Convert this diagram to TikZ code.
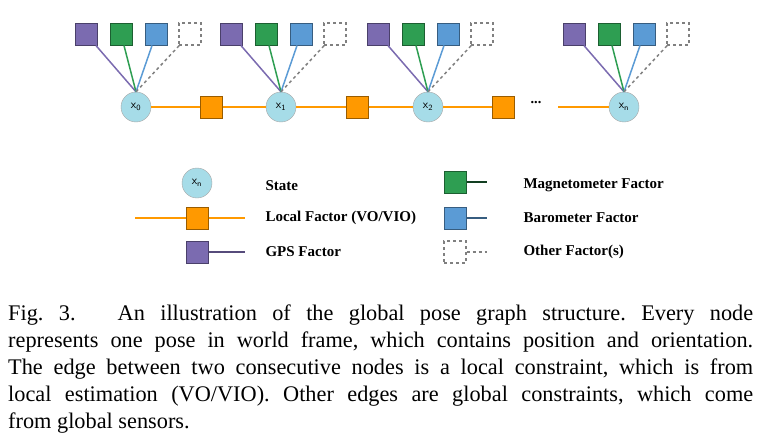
\documentclass[tikz,border=0pt]{standalone}
\usepackage{fontspec}
\setmainfont{Liberation Serif}
\definecolor{gps}{HTML}{7B6BB0}
\definecolor{mag}{HTML}{2E9E52}
\definecolor{baro}{HTML}{5B9BD5}
\definecolor{loc}{HTML}{FF9900}
\definecolor{st}{HTML}{A6DCE8}
\begin{document}
\begin{tikzpicture}[x=1pt,y=-1pt,
 sq/.style={minimum size=22pt,inner sep=0pt,draw=#1!60!black,fill=#1,line width=1pt},
 oth/.style={minimum size=22pt,inner sep=0pt,draw=gray,dashed,line width=1.3pt},
 stn/.style={circle,draw=gray!70,fill=st,minimum size=30pt,inner sep=0pt,font=\sffamily\fontsize{12}{13}\selectfont},
 ln/.style={line width=1.5pt},
 lg/.style={anchor=west,font=\bfseries\fontsize{15}{17}\selectfont}]
\useasboundingbox (0,0) rectangle (777,447);
\foreach \c/\n in {136/0,281/1,428/2,624/n}{
 \node[stn] (s\n) at (\c,107) {x\textsubscript{\n}};
 \node[sq=gps] (g\n) at (\c-50,34) {};
 \node[sq=mag] (m\n) at (\c-15,34) {};
 \node[sq=baro] (b\n) at (\c+20,34) {};
 \node[oth] (o\n) at (\c+54,34) {};
 \draw[gps,ln] (g\n) -- (s\n.north);
 \draw[mag,ln] (m\n) -- (s\n.north);
 \draw[baro,ln] (b\n) -- (s\n.north);
 \draw[gray,dashed,ln] (o\n) -- (s\n.north);
}
\node[sq=loc] (l0) at (211,107) {};
\node[sq=loc] (l1) at (357,107) {};
\node[sq=loc] (l2) at (503,107) {};
\node[font=\bfseries\Large] (dots) at (536,103) {...};
\coordinate (e) at (558,107);
\draw[loc,ln] (s0)--(l0)--(s1)--(l1)--(s2)--(l2);
\draw[loc,ln] (e)--(sn);
% legend
\node[stn] (ls) at (197,183) {x\textsubscript{n}};
\node[lg] (ts) at (262,186) {State};
\coordinate (a1) at (135,218); \coordinate (a2) at (245,218);
\node[sq=loc] (ll) at (197,218) {};
\draw[loc,ln] (a1)--(ll)--(a2);
\node[lg] (tl) at (262,218) {Local Factor (VO/VIO)};
\node[sq=gps] (lgp) at (197,252) {};
\coordinate (a3) at (245,252);
\draw[gps!70!black,ln] (lgp)--(a3);
\node[lg] (tg) at (262,252) {GPS Factor};
\node[sq=mag] (lm) at (455,182) {};
\coordinate (a4) at (487,182);
\draw[mag!40!black,ln] (lm)--(a4);
\node[lg] (tm) at (520,185) {Magnetometer Factor};
\node[sq=baro] (lb) at (455,218) {};
\coordinate (a5) at (487,218);
\draw[baro!60!black,ln] (lb)--(a5);
\node[lg] (tb) at (520,218) {Barometer Factor};
\node[oth] (lo) at (455,252) {};
\coordinate (a6) at (487,252);
\draw[gray,dashed,ln] (lo)--(a6);
\node[lg] (to) at (520,252) {Other Factor(s)};
\node[anchor=north west,inner sep=0pt,text width=745pt,align=justify,
 font=\fontsize{22.3}{26.8}\selectfont] (cap) at (8,305)
 {\frenchspacing Fig. 3.\hspace{1.2em} An illustration of the global pose graph structure. Every node\linebreak represents one pose in world frame, which contains position and orientation.\linebreak The edge between two consecutive nodes is a local constraint, which is from\linebreak local estimation (VO/VIO). Other edges are global constraints, which come\linebreak from global sensors.};
\end{tikzpicture}
\end{document}
